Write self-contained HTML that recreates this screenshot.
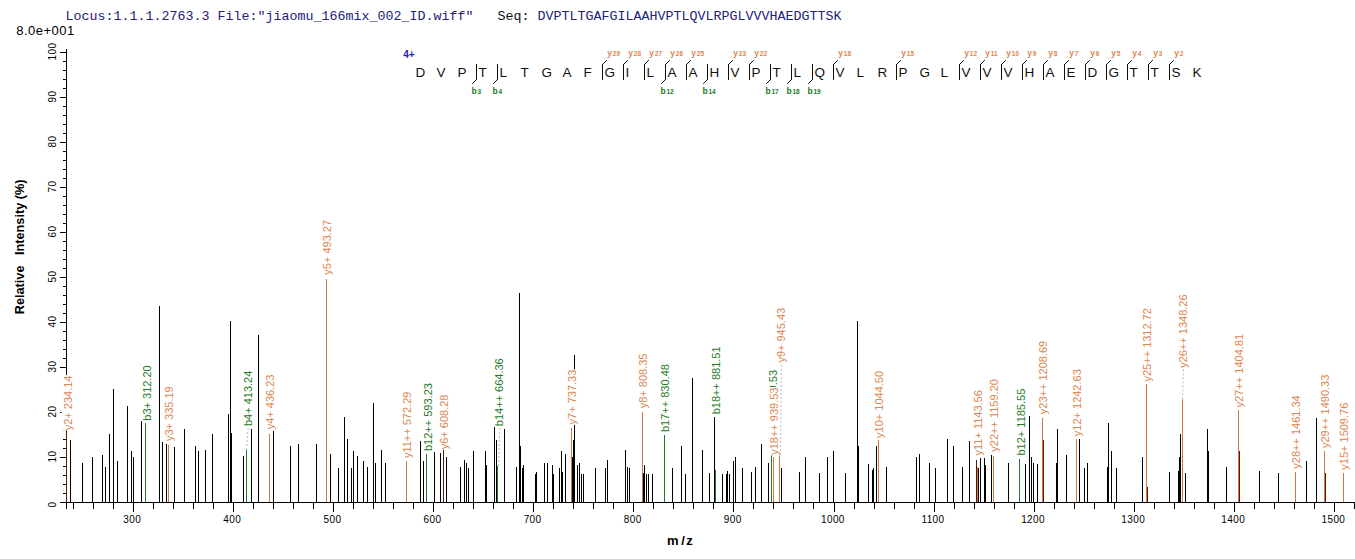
<!DOCTYPE html>
<html><head><meta charset="utf-8"><style>
html,body{margin:0;padding:0;background:#fff;width:1355px;height:559px;overflow:hidden}
svg{display:block}
text{font-family:"Liberation Sans",sans-serif}
.tl{font-size:10px;letter-spacing:0.4px;fill:#000}
.lb{font-size:11px}
.sq{font-size:13.5px;fill:#111}
.ion{font-size:8.5px;font-weight:bold}
.ionn{font-size:6.5px;font-weight:bold}
.chg{font-size:10px;font-weight:bold;fill:#2222bb}
.ax{font-size:13px;font-weight:bold;fill:#000}
.sc{font-size:13px;letter-spacing:0.5px;fill:#000}
.hd{font-family:"Liberation Mono",monospace;font-size:13.33px}
</style></head><body>
<svg width="1355" height="559" viewBox="0 0 1355 559">
<g shape-rendering="crispEdges">
<rect x="66" y="49" width="1" height="460" fill="#000"/>
<rect x="66" y="502" width="1289" height="1" fill="#000"/>
<rect x="60" y="502" width="6" height="1" fill="#000"/>
<rect x="63" y="493" width="3" height="1" fill="#000"/>
<rect x="63" y="484" width="3" height="1" fill="#000"/>
<rect x="63" y="475" width="3" height="1" fill="#000"/>
<rect x="63" y="466" width="3" height="1" fill="#000"/>
<rect x="60" y="457" width="6" height="1" fill="#000"/>
<rect x="63" y="448" width="3" height="1" fill="#000"/>
<rect x="63" y="439" width="3" height="1" fill="#000"/>
<rect x="63" y="430" width="3" height="1" fill="#000"/>
<rect x="63" y="421" width="3" height="1" fill="#000"/>
<rect x="60" y="412" width="6" height="1" fill="#000"/>
<rect x="63" y="403" width="3" height="1" fill="#000"/>
<rect x="63" y="394" width="3" height="1" fill="#000"/>
<rect x="63" y="385" width="3" height="1" fill="#000"/>
<rect x="63" y="376" width="3" height="1" fill="#000"/>
<rect x="60" y="367" width="6" height="1" fill="#000"/>
<rect x="63" y="358" width="3" height="1" fill="#000"/>
<rect x="63" y="349" width="3" height="1" fill="#000"/>
<rect x="63" y="340" width="3" height="1" fill="#000"/>
<rect x="63" y="331" width="3" height="1" fill="#000"/>
<rect x="60" y="322" width="6" height="1" fill="#000"/>
<rect x="63" y="313" width="3" height="1" fill="#000"/>
<rect x="63" y="304" width="3" height="1" fill="#000"/>
<rect x="63" y="295" width="3" height="1" fill="#000"/>
<rect x="63" y="286" width="3" height="1" fill="#000"/>
<rect x="60" y="277" width="6" height="1" fill="#000"/>
<rect x="63" y="268" width="3" height="1" fill="#000"/>
<rect x="63" y="259" width="3" height="1" fill="#000"/>
<rect x="63" y="250" width="3" height="1" fill="#000"/>
<rect x="63" y="241" width="3" height="1" fill="#000"/>
<rect x="60" y="232" width="6" height="1" fill="#000"/>
<rect x="63" y="223" width="3" height="1" fill="#000"/>
<rect x="63" y="214" width="3" height="1" fill="#000"/>
<rect x="63" y="205" width="3" height="1" fill="#000"/>
<rect x="63" y="196" width="3" height="1" fill="#000"/>
<rect x="60" y="187" width="6" height="1" fill="#000"/>
<rect x="63" y="178" width="3" height="1" fill="#000"/>
<rect x="63" y="169" width="3" height="1" fill="#000"/>
<rect x="63" y="160" width="3" height="1" fill="#000"/>
<rect x="63" y="151" width="3" height="1" fill="#000"/>
<rect x="60" y="142" width="6" height="1" fill="#000"/>
<rect x="63" y="133" width="3" height="1" fill="#000"/>
<rect x="63" y="124" width="3" height="1" fill="#000"/>
<rect x="63" y="115" width="3" height="1" fill="#000"/>
<rect x="63" y="106" width="3" height="1" fill="#000"/>
<rect x="60" y="97" width="6" height="1" fill="#000"/>
<rect x="63" y="88" width="3" height="1" fill="#000"/>
<rect x="63" y="79" width="3" height="1" fill="#000"/>
<rect x="63" y="70" width="3" height="1" fill="#000"/>
<rect x="63" y="61" width="3" height="1" fill="#000"/>
<rect x="60" y="52" width="6" height="1" fill="#000"/>
<rect x="73" y="503" width="1" height="6" fill="#000"/>
<rect x="93" y="503" width="1" height="6" fill="#000"/>
<rect x="113" y="503" width="1" height="6" fill="#000"/>
<rect x="133" y="503" width="1" height="9" fill="#000"/>
<rect x="153" y="503" width="1" height="6" fill="#000"/>
<rect x="173" y="503" width="1" height="6" fill="#000"/>
<rect x="193" y="503" width="1" height="6" fill="#000"/>
<rect x="213" y="503" width="1" height="6" fill="#000"/>
<rect x="233" y="503" width="1" height="9" fill="#000"/>
<rect x="253" y="503" width="1" height="6" fill="#000"/>
<rect x="273" y="503" width="1" height="6" fill="#000"/>
<rect x="293" y="503" width="1" height="6" fill="#000"/>
<rect x="313" y="503" width="1" height="6" fill="#000"/>
<rect x="333" y="503" width="1" height="9" fill="#000"/>
<rect x="353" y="503" width="1" height="6" fill="#000"/>
<rect x="373" y="503" width="1" height="6" fill="#000"/>
<rect x="393" y="503" width="1" height="6" fill="#000"/>
<rect x="413" y="503" width="1" height="6" fill="#000"/>
<rect x="433" y="503" width="1" height="9" fill="#000"/>
<rect x="453" y="503" width="1" height="6" fill="#000"/>
<rect x="473" y="503" width="1" height="6" fill="#000"/>
<rect x="493" y="503" width="1" height="6" fill="#000"/>
<rect x="513" y="503" width="1" height="6" fill="#000"/>
<rect x="533" y="503" width="1" height="9" fill="#000"/>
<rect x="553" y="503" width="1" height="6" fill="#000"/>
<rect x="573" y="503" width="1" height="6" fill="#000"/>
<rect x="593" y="503" width="1" height="6" fill="#000"/>
<rect x="613" y="503" width="1" height="6" fill="#000"/>
<rect x="633" y="503" width="1" height="9" fill="#000"/>
<rect x="653" y="503" width="1" height="6" fill="#000"/>
<rect x="673" y="503" width="1" height="6" fill="#000"/>
<rect x="693" y="503" width="1" height="6" fill="#000"/>
<rect x="713" y="503" width="1" height="6" fill="#000"/>
<rect x="733" y="503" width="1" height="9" fill="#000"/>
<rect x="753" y="503" width="1" height="6" fill="#000"/>
<rect x="773" y="503" width="1" height="6" fill="#000"/>
<rect x="793" y="503" width="1" height="6" fill="#000"/>
<rect x="813" y="503" width="1" height="6" fill="#000"/>
<rect x="834" y="503" width="1" height="9" fill="#000"/>
<rect x="854" y="503" width="1" height="6" fill="#000"/>
<rect x="874" y="503" width="1" height="6" fill="#000"/>
<rect x="894" y="503" width="1" height="6" fill="#000"/>
<rect x="914" y="503" width="1" height="6" fill="#000"/>
<rect x="934" y="503" width="1" height="9" fill="#000"/>
<rect x="954" y="503" width="1" height="6" fill="#000"/>
<rect x="974" y="503" width="1" height="6" fill="#000"/>
<rect x="994" y="503" width="1" height="6" fill="#000"/>
<rect x="1014" y="503" width="1" height="6" fill="#000"/>
<rect x="1034" y="503" width="1" height="9" fill="#000"/>
<rect x="1054" y="503" width="1" height="6" fill="#000"/>
<rect x="1074" y="503" width="1" height="6" fill="#000"/>
<rect x="1094" y="503" width="1" height="6" fill="#000"/>
<rect x="1114" y="503" width="1" height="6" fill="#000"/>
<rect x="1134" y="503" width="1" height="9" fill="#000"/>
<rect x="1154" y="503" width="1" height="6" fill="#000"/>
<rect x="1174" y="503" width="1" height="6" fill="#000"/>
<rect x="1194" y="503" width="1" height="6" fill="#000"/>
<rect x="1214" y="503" width="1" height="6" fill="#000"/>
<rect x="1234" y="503" width="1" height="9" fill="#000"/>
<rect x="1254" y="503" width="1" height="6" fill="#000"/>
<rect x="1274" y="503" width="1" height="6" fill="#000"/>
<rect x="1294" y="503" width="1" height="6" fill="#000"/>
<rect x="1314" y="503" width="1" height="6" fill="#000"/>
<rect x="1334" y="503" width="1" height="9" fill="#000"/>
<rect x="1354" y="503" width="1" height="6" fill="#000"/>
<rect x="66" y="432" width="1" height="70" fill="#5a1a08"/>
<rect x="70" y="440" width="1" height="62" fill="#000000"/>
<rect x="82" y="463" width="1" height="39" fill="#000000"/>
<rect x="92" y="457" width="1" height="45" fill="#000000"/>
<rect x="102" y="455" width="1" height="47" fill="#000000"/>
<rect x="105" y="467" width="1" height="35" fill="#000000"/>
<rect x="109" y="434" width="1" height="68" fill="#000000"/>
<rect x="113" y="389" width="1" height="113" fill="#000000"/>
<rect x="117" y="461" width="1" height="41" fill="#000000"/>
<rect x="127" y="406" width="1" height="96" fill="#000000"/>
<rect x="131" y="451" width="1" height="51" fill="#000000"/>
<rect x="133" y="457" width="1" height="45" fill="#000000"/>
<rect x="141" y="421" width="1" height="81" fill="#000000"/>
<rect x="145" y="423" width="1" height="79" fill="#1f7a2f"/>
<rect x="159" y="306" width="1" height="196" fill="#000000"/>
<rect x="162" y="442" width="1" height="60" fill="#000000"/>
<rect x="166" y="444" width="1" height="58" fill="#000000"/>
<rect x="168" y="445" width="1" height="57" fill="#d2783c"/>
<rect x="174" y="447" width="1" height="55" fill="#000000"/>
<rect x="184" y="429" width="1" height="73" fill="#000000"/>
<rect x="195" y="446" width="1" height="56" fill="#000000"/>
<rect x="198" y="451" width="1" height="51" fill="#000000"/>
<rect x="205" y="450" width="1" height="52" fill="#000000"/>
<rect x="212" y="434" width="1" height="68" fill="#000000"/>
<rect x="228" y="414" width="1" height="88" fill="#000000"/>
<rect x="230" y="321" width="1" height="181" fill="#000000"/>
<rect x="231" y="433" width="1" height="69" fill="#000000"/>
<rect x="243" y="456" width="1" height="46" fill="#000000"/>
<rect x="246" y="450" width="1" height="52" fill="#1f7a2f"/>
<rect x="251" y="429" width="1" height="73" fill="#000000"/>
<rect x="258" y="335" width="1" height="167" fill="#000000"/>
<rect x="269" y="434" width="1" height="68" fill="#d2783c"/>
<rect x="273" y="431" width="1" height="71" fill="#000000"/>
<rect x="290" y="446" width="1" height="56" fill="#000000"/>
<rect x="298" y="444" width="1" height="58" fill="#000000"/>
<rect x="316" y="444" width="1" height="58" fill="#000000"/>
<rect x="326" y="279" width="1" height="223" fill="#d2783c"/>
<rect x="330" y="454" width="1" height="48" fill="#000000"/>
<rect x="338" y="468" width="1" height="34" fill="#000000"/>
<rect x="344" y="417" width="1" height="85" fill="#000000"/>
<rect x="347" y="439" width="1" height="63" fill="#000000"/>
<rect x="351" y="468" width="1" height="34" fill="#000000"/>
<rect x="353" y="451" width="1" height="51" fill="#000000"/>
<rect x="357" y="456" width="1" height="46" fill="#000000"/>
<rect x="363" y="461" width="1" height="41" fill="#000000"/>
<rect x="367" y="467" width="1" height="35" fill="#000000"/>
<rect x="373" y="403" width="1" height="99" fill="#000000"/>
<rect x="375" y="463" width="1" height="39" fill="#000000"/>
<rect x="381" y="450" width="1" height="52" fill="#000000"/>
<rect x="385" y="463" width="1" height="39" fill="#000000"/>
<rect x="406" y="461" width="1" height="41" fill="#d2783c"/>
<rect x="420" y="441" width="1" height="61" fill="#000000"/>
<rect x="423" y="461" width="1" height="41" fill="#000000"/>
<rect x="426" y="454" width="1" height="48" fill="#1f7a2f"/>
<rect x="434" y="452" width="1" height="50" fill="#000000"/>
<rect x="440" y="453" width="1" height="49" fill="#000000"/>
<rect x="443" y="449" width="1" height="53" fill="#5a1a08"/>
<rect x="446" y="457" width="1" height="45" fill="#000000"/>
<rect x="460" y="467" width="1" height="35" fill="#000000"/>
<rect x="464" y="460" width="1" height="42" fill="#000000"/>
<rect x="466" y="463" width="1" height="39" fill="#000000"/>
<rect x="468" y="468" width="1" height="34" fill="#000000"/>
<rect x="473" y="451" width="1" height="51" fill="#000000"/>
<rect x="485" y="451" width="1" height="51" fill="#000000"/>
<rect x="486" y="465" width="1" height="37" fill="#000000"/>
<rect x="494" y="427" width="1" height="75" fill="#000000"/>
<rect x="496" y="440" width="1" height="62" fill="#000000"/>
<rect x="497" y="466" width="1" height="36" fill="#1f7a2f"/>
<rect x="504" y="429" width="1" height="73" fill="#000000"/>
<rect x="516" y="467" width="1" height="35" fill="#000000"/>
<rect x="519" y="293" width="1" height="209" fill="#000000"/>
<rect x="520" y="446" width="1" height="56" fill="#000000"/>
<rect x="522" y="468" width="1" height="34" fill="#000000"/>
<rect x="523" y="465" width="1" height="37" fill="#000000"/>
<rect x="535" y="474" width="1" height="28" fill="#000000"/>
<rect x="536" y="472" width="1" height="30" fill="#000000"/>
<rect x="544" y="463" width="1" height="39" fill="#000000"/>
<rect x="547" y="463" width="1" height="39" fill="#000000"/>
<rect x="552" y="465" width="1" height="37" fill="#000000"/>
<rect x="553" y="474" width="1" height="28" fill="#000000"/>
<rect x="559" y="468" width="1" height="34" fill="#000000"/>
<rect x="561" y="451" width="1" height="51" fill="#000000"/>
<rect x="562" y="472" width="1" height="30" fill="#000000"/>
<rect x="565" y="454" width="1" height="48" fill="#000000"/>
<rect x="571" y="428" width="1" height="74" fill="#d2783c"/>
<rect x="572" y="457" width="1" height="45" fill="#000000"/>
<rect x="573" y="440" width="1" height="62" fill="#000000"/>
<rect x="574" y="355" width="1" height="147" fill="#000000"/>
<rect x="577" y="465" width="1" height="37" fill="#000000"/>
<rect x="579" y="463" width="1" height="39" fill="#000000"/>
<rect x="581" y="474" width="1" height="28" fill="#000000"/>
<rect x="583" y="474" width="1" height="28" fill="#000000"/>
<rect x="595" y="468" width="1" height="34" fill="#000000"/>
<rect x="605" y="468" width="1" height="34" fill="#000000"/>
<rect x="607" y="460" width="1" height="42" fill="#000000"/>
<rect x="625" y="450" width="1" height="52" fill="#000000"/>
<rect x="627" y="467" width="1" height="35" fill="#000000"/>
<rect x="629" y="468" width="1" height="34" fill="#000000"/>
<rect x="642" y="412" width="1" height="90" fill="#d2783c"/>
<rect x="643" y="473" width="1" height="29" fill="#000000"/>
<rect x="644" y="465" width="1" height="37" fill="#000000"/>
<rect x="646" y="474" width="1" height="28" fill="#000000"/>
<rect x="648" y="474" width="1" height="28" fill="#000000"/>
<rect x="652" y="474" width="1" height="28" fill="#000000"/>
<rect x="664" y="435" width="1" height="67" fill="#1f7a2f"/>
<rect x="672" y="468" width="1" height="34" fill="#000000"/>
<rect x="681" y="446" width="1" height="56" fill="#000000"/>
<rect x="685" y="474" width="1" height="28" fill="#000000"/>
<rect x="692" y="378" width="1" height="124" fill="#000000"/>
<rect x="702" y="450" width="1" height="52" fill="#000000"/>
<rect x="709" y="473" width="1" height="29" fill="#000000"/>
<rect x="714" y="417" width="1" height="85" fill="#000000"/>
<rect x="715" y="470" width="1" height="32" fill="#1f7a2f"/>
<rect x="722" y="474" width="1" height="28" fill="#000000"/>
<rect x="726" y="474" width="1" height="28" fill="#000000"/>
<rect x="727" y="471" width="1" height="31" fill="#000000"/>
<rect x="729" y="474" width="1" height="28" fill="#000000"/>
<rect x="733" y="461" width="1" height="41" fill="#000000"/>
<rect x="735" y="457" width="1" height="45" fill="#000000"/>
<rect x="742" y="468" width="1" height="34" fill="#000000"/>
<rect x="751" y="472" width="1" height="30" fill="#000000"/>
<rect x="755" y="467" width="1" height="35" fill="#000000"/>
<rect x="761" y="444" width="1" height="58" fill="#000000"/>
<rect x="768" y="463" width="1" height="39" fill="#000000"/>
<rect x="771" y="455" width="1" height="47" fill="#1f7a2f"/>
<rect x="773" y="457" width="1" height="45" fill="#d2783c"/>
<rect x="779" y="455" width="1" height="47" fill="#d2783c"/>
<rect x="781" y="468" width="1" height="34" fill="#000000"/>
<rect x="799" y="472" width="1" height="30" fill="#000000"/>
<rect x="805" y="457" width="1" height="45" fill="#000000"/>
<rect x="819" y="473" width="1" height="29" fill="#000000"/>
<rect x="827" y="457" width="1" height="45" fill="#000000"/>
<rect x="833" y="451" width="1" height="51" fill="#000000"/>
<rect x="845" y="473" width="1" height="29" fill="#000000"/>
<rect x="857" y="321" width="1" height="181" fill="#000000"/>
<rect x="858" y="446" width="1" height="56" fill="#000000"/>
<rect x="868" y="464" width="1" height="38" fill="#000000"/>
<rect x="872" y="470" width="1" height="32" fill="#000000"/>
<rect x="873" y="468" width="1" height="34" fill="#000000"/>
<rect x="876" y="446" width="1" height="56" fill="#000000"/>
<rect x="878" y="440" width="1" height="62" fill="#d2783c"/>
<rect x="886" y="467" width="1" height="35" fill="#000000"/>
<rect x="916" y="457" width="1" height="45" fill="#000000"/>
<rect x="919" y="454" width="1" height="48" fill="#000000"/>
<rect x="929" y="463" width="1" height="39" fill="#000000"/>
<rect x="935" y="468" width="1" height="34" fill="#000000"/>
<rect x="947" y="439" width="1" height="63" fill="#000000"/>
<rect x="953" y="446" width="1" height="56" fill="#000000"/>
<rect x="962" y="467" width="1" height="35" fill="#000000"/>
<rect x="969" y="441" width="1" height="61" fill="#000000"/>
<rect x="976" y="460" width="1" height="42" fill="#5a1a08"/>
<rect x="977" y="467" width="1" height="35" fill="#d2783c"/>
<rect x="978" y="468" width="1" height="34" fill="#000000"/>
<rect x="980" y="458" width="1" height="44" fill="#000000"/>
<rect x="984" y="458" width="1" height="44" fill="#000000"/>
<rect x="985" y="465" width="1" height="37" fill="#000000"/>
<rect x="991" y="455" width="1" height="47" fill="#000000"/>
<rect x="993" y="456" width="1" height="46" fill="#d2783c"/>
<rect x="1008" y="463" width="1" height="39" fill="#000000"/>
<rect x="1019" y="459" width="1" height="43" fill="#1f7a2f"/>
<rect x="1025" y="464" width="1" height="38" fill="#000000"/>
<rect x="1029" y="416" width="1" height="86" fill="#000000"/>
<rect x="1031" y="457" width="1" height="45" fill="#000000"/>
<rect x="1033" y="463" width="1" height="39" fill="#000000"/>
<rect x="1037" y="464" width="1" height="38" fill="#000000"/>
<rect x="1042" y="418" width="1" height="84" fill="#d2783c"/>
<rect x="1043" y="440" width="1" height="62" fill="#5a1a08"/>
<rect x="1056" y="463" width="1" height="39" fill="#000000"/>
<rect x="1057" y="429" width="1" height="73" fill="#000000"/>
<rect x="1066" y="455" width="1" height="47" fill="#000000"/>
<rect x="1076" y="439" width="1" height="63" fill="#d2783c"/>
<rect x="1079" y="439" width="1" height="63" fill="#000000"/>
<rect x="1084" y="468" width="1" height="34" fill="#000000"/>
<rect x="1087" y="463" width="1" height="39" fill="#000000"/>
<rect x="1107" y="467" width="1" height="35" fill="#000000"/>
<rect x="1108" y="423" width="1" height="79" fill="#000000"/>
<rect x="1111" y="451" width="1" height="51" fill="#000000"/>
<rect x="1116" y="468" width="1" height="34" fill="#000000"/>
<rect x="1142" y="457" width="1" height="45" fill="#000000"/>
<rect x="1146" y="384" width="1" height="118" fill="#d2783c"/>
<rect x="1147" y="487" width="1" height="15" fill="#5a1a08"/>
<rect x="1169" y="472" width="1" height="30" fill="#000000"/>
<rect x="1178" y="471" width="1" height="31" fill="#000000"/>
<rect x="1179" y="457" width="1" height="45" fill="#000000"/>
<rect x="1180" y="434" width="1" height="68" fill="#000000"/>
<rect x="1182" y="399" width="1" height="103" fill="#d2783c"/>
<rect x="1185" y="473" width="1" height="29" fill="#000000"/>
<rect x="1207" y="429" width="1" height="73" fill="#000000"/>
<rect x="1208" y="451" width="1" height="51" fill="#000000"/>
<rect x="1226" y="467" width="1" height="35" fill="#000000"/>
<rect x="1238" y="410" width="1" height="92" fill="#d2783c"/>
<rect x="1239" y="451" width="1" height="51" fill="#5a1a08"/>
<rect x="1259" y="471" width="1" height="31" fill="#000000"/>
<rect x="1278" y="473" width="1" height="29" fill="#000000"/>
<rect x="1295" y="472" width="1" height="30" fill="#d2783c"/>
<rect x="1306" y="461" width="1" height="41" fill="#000000"/>
<rect x="1316" y="418" width="1" height="84" fill="#000000"/>
<rect x="1324" y="451" width="1" height="51" fill="#d2783c"/>
<rect x="1325" y="473" width="1" height="29" fill="#5a1a08"/>
<rect x="1343" y="473" width="1" height="29" fill="#d2783c"/>
<rect x="476" y="64" width="1" height="16" fill="#111"/>
<rect x="497" y="64" width="1" height="16" fill="#111"/>
<rect x="602" y="64" width="1" height="16" fill="#111"/>
<rect x="623" y="64" width="1" height="16" fill="#111"/>
<rect x="644" y="64" width="1" height="16" fill="#111"/>
<rect x="665" y="64" width="1" height="16" fill="#111"/>
<rect x="686" y="64" width="1" height="16" fill="#111"/>
<rect x="707" y="64" width="1" height="16" fill="#111"/>
<rect x="728" y="64" width="1" height="16" fill="#111"/>
<rect x="749" y="64" width="1" height="16" fill="#111"/>
<rect x="770" y="64" width="1" height="16" fill="#111"/>
<rect x="791" y="64" width="1" height="16" fill="#111"/>
<rect x="812" y="64" width="1" height="16" fill="#111"/>
<rect x="833" y="64" width="1" height="16" fill="#111"/>
<rect x="896" y="64" width="1" height="16" fill="#111"/>
<rect x="959" y="64" width="1" height="16" fill="#111"/>
<rect x="980" y="64" width="1" height="16" fill="#111"/>
<rect x="1001" y="64" width="1" height="16" fill="#111"/>
<rect x="1022" y="64" width="1" height="16" fill="#111"/>
<rect x="1043" y="64" width="1" height="16" fill="#111"/>
<rect x="1064" y="64" width="1" height="16" fill="#111"/>
<rect x="1085" y="64" width="1" height="16" fill="#111"/>
<rect x="1106" y="64" width="1" height="16" fill="#111"/>
<rect x="1127" y="64" width="1" height="16" fill="#111"/>
<rect x="1148" y="64" width="1" height="16" fill="#111"/>
<rect x="1169" y="64" width="1" height="16" fill="#111"/>
</g>
<text class="tl" transform="translate(55.8,504.5) rotate(-90)" text-anchor="middle">0</text>
<text class="tl" transform="translate(55.8,456.5) rotate(-90)" text-anchor="middle">10</text>
<text class="tl" transform="translate(55.8,411.5) rotate(-90)" text-anchor="middle">20</text>
<text class="tl" transform="translate(55.8,366.5) rotate(-90)" text-anchor="middle">30</text>
<text class="tl" transform="translate(55.8,321.5) rotate(-90)" text-anchor="middle">40</text>
<text class="tl" transform="translate(55.8,276.5) rotate(-90)" text-anchor="middle">50</text>
<text class="tl" transform="translate(55.8,231.5) rotate(-90)" text-anchor="middle">60</text>
<text class="tl" transform="translate(55.8,186.5) rotate(-90)" text-anchor="middle">70</text>
<text class="tl" transform="translate(55.8,141.5) rotate(-90)" text-anchor="middle">80</text>
<text class="tl" transform="translate(55.8,96.5) rotate(-90)" text-anchor="middle">90</text>
<text class="tl" transform="translate(55.8,51.5) rotate(-90)" text-anchor="middle">100</text>
<text class="tl" x="132.2" y="522.5" text-anchor="middle">300</text>
<text class="tl" x="232.3" y="522.5" text-anchor="middle">400</text>
<text class="tl" x="332.4" y="522.5" text-anchor="middle">500</text>
<text class="tl" x="432.5" y="522.5" text-anchor="middle">600</text>
<text class="tl" x="532.6" y="522.5" text-anchor="middle">700</text>
<text class="tl" x="632.7" y="522.5" text-anchor="middle">800</text>
<text class="tl" x="732.8" y="522.5" text-anchor="middle">900</text>
<text class="tl" x="832.9" y="522.5" text-anchor="middle">1000</text>
<text class="tl" x="933.0" y="522.5" text-anchor="middle">1100</text>
<text class="tl" x="1033.1" y="522.5" text-anchor="middle">1200</text>
<text class="tl" x="1133.2" y="522.5" text-anchor="middle">1300</text>
<text class="tl" x="1233.3" y="522.5" text-anchor="middle">1400</text>
<text class="tl" x="1333.4" y="522.5" text-anchor="middle">1500</text>
<text class="sq" x="415.5" y="76.6">D</text>
<text class="sq" x="436.5" y="76.6">V</text>
<text class="sq" x="457.5" y="76.6">P</text>
<text class="sq" x="478.5" y="76.6">T</text>
<text class="sq" x="499.5" y="76.6">L</text>
<text class="sq" x="520.5" y="76.6">T</text>
<text class="sq" x="541.5" y="76.6">G</text>
<text class="sq" x="562.5" y="76.6">A</text>
<text class="sq" x="583.5" y="76.6">F</text>
<text class="sq" x="604.5" y="76.6">G</text>
<text class="sq" x="625.5" y="76.6">I</text>
<text class="sq" x="646.5" y="76.6">L</text>
<text class="sq" x="667.5" y="76.6">A</text>
<text class="sq" x="688.5" y="76.6">A</text>
<text class="sq" x="709.5" y="76.6">H</text>
<text class="sq" x="730.5" y="76.6">V</text>
<text class="sq" x="751.5" y="76.6">P</text>
<text class="sq" x="772.5" y="76.6">T</text>
<text class="sq" x="793.5" y="76.6">L</text>
<text class="sq" x="814.5" y="76.6">Q</text>
<text class="sq" x="835.5" y="76.6">V</text>
<text class="sq" x="856.5" y="76.6">L</text>
<text class="sq" x="877.5" y="76.6">R</text>
<text class="sq" x="898.5" y="76.6">P</text>
<text class="sq" x="919.5" y="76.6">G</text>
<text class="sq" x="940.5" y="76.6">L</text>
<text class="sq" x="961.5" y="76.6">V</text>
<text class="sq" x="982.5" y="76.6">V</text>
<text class="sq" x="1003.5" y="76.6">V</text>
<text class="sq" x="1024.5" y="76.6">H</text>
<text class="sq" x="1045.5" y="76.6">A</text>
<text class="sq" x="1066.5" y="76.6">E</text>
<text class="sq" x="1087.5" y="76.6">D</text>
<text class="sq" x="1108.5" y="76.6">G</text>
<text class="sq" x="1129.5" y="76.6">T</text>
<text class="sq" x="1150.5" y="76.6">T</text>
<text class="sq" x="1171.5" y="76.6">S</text>
<text class="sq" x="1192.5" y="76.6">K</text>
<line x1="476.5" y1="79.5" x2="472.2" y2="83.8" stroke="#111" stroke-width="1"/>
<text class="ion" fill="#1f7a28" x="471.5" y="93.6">b<tspan class="ionn" dx="0.8">3</tspan></text>
<line x1="497.5" y1="79.5" x2="493.2" y2="83.8" stroke="#111" stroke-width="1"/>
<text class="ion" fill="#1f7a28" x="492.5" y="93.6">b<tspan class="ionn" dx="0.8">4</tspan></text>
<line x1="602.5" y1="64.5" x2="606.8" y2="60.2" stroke="#111" stroke-width="1"/>
<text class="ion" fill="#dc8650" x="607.3" y="56.2">y<tspan class="ionn" dx="0.8" dy="-0.6">29</tspan></text>
<line x1="623.5" y1="64.5" x2="627.8" y2="60.2" stroke="#111" stroke-width="1"/>
<text class="ion" fill="#dc8650" x="628.3" y="56.2">y<tspan class="ionn" dx="0.8" dy="-0.6">28</tspan></text>
<line x1="644.5" y1="64.5" x2="648.8" y2="60.2" stroke="#111" stroke-width="1"/>
<text class="ion" fill="#dc8650" x="649.3" y="56.2">y<tspan class="ionn" dx="0.8" dy="-0.6">27</tspan></text>
<line x1="665.5" y1="64.5" x2="669.8" y2="60.2" stroke="#111" stroke-width="1"/>
<text class="ion" fill="#dc8650" x="670.3" y="56.2">y<tspan class="ionn" dx="0.8" dy="-0.6">26</tspan></text>
<line x1="665.5" y1="79.5" x2="661.2" y2="83.8" stroke="#111" stroke-width="1"/>
<text class="ion" fill="#1f7a28" x="660.5" y="93.6">b<tspan class="ionn" dx="0.8">12</tspan></text>
<line x1="686.5" y1="64.5" x2="690.8" y2="60.2" stroke="#111" stroke-width="1"/>
<text class="ion" fill="#dc8650" x="691.3" y="56.2">y<tspan class="ionn" dx="0.8" dy="-0.6">25</tspan></text>
<line x1="707.5" y1="79.5" x2="703.2" y2="83.8" stroke="#111" stroke-width="1"/>
<text class="ion" fill="#1f7a28" x="702.5" y="93.6">b<tspan class="ionn" dx="0.8">14</tspan></text>
<line x1="728.5" y1="64.5" x2="732.8" y2="60.2" stroke="#111" stroke-width="1"/>
<text class="ion" fill="#dc8650" x="733.3" y="56.2">y<tspan class="ionn" dx="0.8" dy="-0.6">23</tspan></text>
<line x1="749.5" y1="64.5" x2="753.8" y2="60.2" stroke="#111" stroke-width="1"/>
<text class="ion" fill="#dc8650" x="754.3" y="56.2">y<tspan class="ionn" dx="0.8" dy="-0.6">22</tspan></text>
<line x1="770.5" y1="79.5" x2="766.2" y2="83.8" stroke="#111" stroke-width="1"/>
<text class="ion" fill="#1f7a28" x="765.5" y="93.6">b<tspan class="ionn" dx="0.8">17</tspan></text>
<line x1="791.5" y1="79.5" x2="787.2" y2="83.8" stroke="#111" stroke-width="1"/>
<text class="ion" fill="#1f7a28" x="786.5" y="93.6">b<tspan class="ionn" dx="0.8">18</tspan></text>
<line x1="812.5" y1="79.5" x2="808.2" y2="83.8" stroke="#111" stroke-width="1"/>
<text class="ion" fill="#1f7a28" x="807.5" y="93.6">b<tspan class="ionn" dx="0.8">19</tspan></text>
<line x1="833.5" y1="64.5" x2="837.8" y2="60.2" stroke="#111" stroke-width="1"/>
<text class="ion" fill="#dc8650" x="838.3" y="56.2">y<tspan class="ionn" dx="0.8" dy="-0.6">18</tspan></text>
<line x1="896.5" y1="64.5" x2="900.8" y2="60.2" stroke="#111" stroke-width="1"/>
<text class="ion" fill="#dc8650" x="901.3" y="56.2">y<tspan class="ionn" dx="0.8" dy="-0.6">15</tspan></text>
<line x1="959.5" y1="64.5" x2="963.8" y2="60.2" stroke="#111" stroke-width="1"/>
<text class="ion" fill="#dc8650" x="964.3" y="56.2">y<tspan class="ionn" dx="0.8" dy="-0.6">12</tspan></text>
<line x1="980.5" y1="64.5" x2="984.8" y2="60.2" stroke="#111" stroke-width="1"/>
<text class="ion" fill="#dc8650" x="985.3" y="56.2">y<tspan class="ionn" dx="0.8" dy="-0.6">11</tspan></text>
<line x1="1001.5" y1="64.5" x2="1005.8" y2="60.2" stroke="#111" stroke-width="1"/>
<text class="ion" fill="#dc8650" x="1006.3" y="56.2">y<tspan class="ionn" dx="0.8" dy="-0.6">10</tspan></text>
<line x1="1022.5" y1="64.5" x2="1026.8" y2="60.2" stroke="#111" stroke-width="1"/>
<text class="ion" fill="#dc8650" x="1027.3" y="56.2">y<tspan class="ionn" dx="0.8" dy="-0.6">9</tspan></text>
<line x1="1043.5" y1="64.5" x2="1047.8" y2="60.2" stroke="#111" stroke-width="1"/>
<text class="ion" fill="#dc8650" x="1048.3" y="56.2">y<tspan class="ionn" dx="0.8" dy="-0.6">8</tspan></text>
<line x1="1064.5" y1="64.5" x2="1068.8" y2="60.2" stroke="#111" stroke-width="1"/>
<text class="ion" fill="#dc8650" x="1069.3" y="56.2">y<tspan class="ionn" dx="0.8" dy="-0.6">7</tspan></text>
<line x1="1085.5" y1="64.5" x2="1089.8" y2="60.2" stroke="#111" stroke-width="1"/>
<text class="ion" fill="#dc8650" x="1090.3" y="56.2">y<tspan class="ionn" dx="0.8" dy="-0.6">6</tspan></text>
<line x1="1106.5" y1="64.5" x2="1110.8" y2="60.2" stroke="#111" stroke-width="1"/>
<text class="ion" fill="#dc8650" x="1111.3" y="56.2">y<tspan class="ionn" dx="0.8" dy="-0.6">5</tspan></text>
<line x1="1127.5" y1="64.5" x2="1131.8" y2="60.2" stroke="#111" stroke-width="1"/>
<text class="ion" fill="#dc8650" x="1132.3" y="56.2">y<tspan class="ionn" dx="0.8" dy="-0.6">4</tspan></text>
<line x1="1148.5" y1="64.5" x2="1152.8" y2="60.2" stroke="#111" stroke-width="1"/>
<text class="ion" fill="#dc8650" x="1153.3" y="56.2">y<tspan class="ionn" dx="0.8" dy="-0.6">3</tspan></text>
<line x1="1169.5" y1="64.5" x2="1173.8" y2="60.2" stroke="#111" stroke-width="1"/>
<text class="ion" fill="#dc8650" x="1174.3" y="56.2">y<tspan class="ionn" dx="0.8" dy="-0.6">2</tspan></text>
<text class="chg" x="403.3" y="57.5">4+</text>
<text class="ax" style="font-size:12.7px" transform="translate(23.5,314.2) rotate(-90)" xml:space="preserve">Relative   Intensity (%)</text>
<text class="ax" x="667" y="545">m<tspan dx="2.6">/</tspan><tspan dx="1.4">z</tspan></text>
<text class="sc" x="16.2" y="34.8">8.0e+001</text>
<text class="hd" x="65.6" y="19.8" fill="#22227a" xml:space="preserve">Locus:1.1.1.2763.3 File:"jiaomu_166mix_002_ID.wiff"   <tspan fill="#111">Seq:</tspan> DVPTLTGAFGILAAHVPTLQVLRPGLVVVHAEDGTTSK</text>
<rect transform="translate(71.5,430.3) rotate(-90)" x="-0.5" y="-10" width="55.7" height="12.3" fill="#fff"/>
<text class="lb" fill="#dc8650" transform="translate(71.5,430.3) rotate(-90)">y2+ 234.14</text>
<rect transform="translate(150.5,420.7) rotate(-90)" x="-0.5" y="-10" width="56.4" height="12.3" fill="#fff"/>
<text class="lb" fill="#1f7a28" transform="translate(150.5,420.7) rotate(-90)">b3+ 312.20</text>
<rect transform="translate(173.1,441.0) rotate(-90)" x="-0.5" y="-10" width="55.7" height="12.3" fill="#fff"/>
<text class="lb" fill="#dc8650" transform="translate(173.1,441.0) rotate(-90)">y3+ 335.19</text>
<line x1="246.5" y1="450" x2="248.2" y2="426.7" stroke="#bbb" stroke-width="1" stroke-dasharray="2,2"/>
<rect transform="translate(251.7,426.0) rotate(-90)" x="-0.5" y="-10" width="56.4" height="12.3" fill="#fff"/>
<text class="lb" fill="#1f7a28" transform="translate(251.7,426.0) rotate(-90)">b4+ 413.24</text>
<rect transform="translate(273.9,429.3) rotate(-90)" x="-0.5" y="-10" width="55.7" height="12.3" fill="#fff"/>
<text class="lb" fill="#dc8650" transform="translate(273.9,429.3) rotate(-90)">y4+ 436.23</text>
<rect transform="translate(331.3,274.7) rotate(-90)" x="-0.5" y="-10" width="55.7" height="12.3" fill="#fff"/>
<text class="lb" fill="#dc8650" transform="translate(331.3,274.7) rotate(-90)">y5+ 493.27</text>
<rect transform="translate(411.1,458.1) rotate(-90)" x="-0.5" y="-10" width="67.5" height="12.3" fill="#fff"/>
<text class="lb" fill="#dc8650" transform="translate(411.1,458.1) rotate(-90)">y11++ 572.29</text>
<rect transform="translate(431.9,451.0) rotate(-90)" x="-0.5" y="-10" width="68.9" height="12.3" fill="#fff"/>
<text class="lb" fill="#1f7a28" transform="translate(431.9,451.0) rotate(-90)">b12++ 593.23</text>
<rect transform="translate(447.9,449.3) rotate(-90)" x="-0.5" y="-10" width="55.7" height="12.3" fill="#fff"/>
<text class="lb" fill="#dc8650" transform="translate(447.9,449.3) rotate(-90)">y6+ 608.28</text>
<line x1="498.5" y1="466" x2="499.9" y2="426.9" stroke="#bbb" stroke-width="1" stroke-dasharray="2,2"/>
<rect transform="translate(503.4,426.2) rotate(-90)" x="-0.5" y="-10" width="68.9" height="12.3" fill="#fff"/>
<text class="lb" fill="#1f7a28" transform="translate(503.4,426.2) rotate(-90)">b14++ 664.36</text>
<rect transform="translate(575.8,424.4) rotate(-90)" x="-0.5" y="-10" width="55.7" height="12.3" fill="#fff"/>
<text class="lb" fill="#dc8650" transform="translate(575.8,424.4) rotate(-90)">y7+ 737.33</text>
<rect transform="translate(647.1,408.3) rotate(-90)" x="-0.5" y="-10" width="55.7" height="12.3" fill="#fff"/>
<text class="lb" fill="#dc8650" transform="translate(647.1,408.3) rotate(-90)">y8+ 808.35</text>
<rect transform="translate(669.4,432.0) rotate(-90)" x="-0.5" y="-10" width="68.9" height="12.3" fill="#fff"/>
<text class="lb" fill="#1f7a28" transform="translate(669.4,432.0) rotate(-90)">b17++ 830.48</text>
<rect transform="translate(719.7,414.3) rotate(-90)" x="-0.5" y="-10" width="68.9" height="12.3" fill="#fff"/>
<text class="lb" fill="#1f7a28" transform="translate(719.7,414.3) rotate(-90)">b18++ 881.51</text>
<rect transform="translate(776.6,437.8) rotate(-90)" x="-0.5" y="-10" width="68.9" height="12.3" fill="#fff"/>
<text class="lb" fill="#1f7a28" transform="translate(776.6,437.8) rotate(-90)">b19++ 939.53</text>
<rect transform="translate(778.1,454.8) rotate(-90)" x="-0.5" y="-10" width="68.3" height="12.3" fill="#fff"/>
<text class="lb" fill="#dc8650" transform="translate(778.1,454.8) rotate(-90)">y18++ 939.53</text>
<line x1="780.5" y1="455" x2="781.4" y2="363.3" stroke="#bbb" stroke-width="1" stroke-dasharray="2,2"/>
<rect transform="translate(784.9,362.6) rotate(-90)" x="-0.5" y="-10" width="55.7" height="12.3" fill="#fff"/>
<text class="lb" fill="#dc8650" transform="translate(784.9,362.6) rotate(-90)">y9+ 945.43</text>
<rect transform="translate(883.1,437.9) rotate(-90)" x="-0.5" y="-10" width="68.0" height="12.3" fill="#fff"/>
<text class="lb" fill="#dc8650" transform="translate(883.1,437.9) rotate(-90)">y10+ 1044.50</text>
<rect transform="translate(982.1,455.5) rotate(-90)" x="-0.5" y="-10" width="66.3" height="12.3" fill="#fff"/>
<text class="lb" fill="#dc8650" transform="translate(982.1,455.5) rotate(-90)">y11+ 1143.56</text>
<rect transform="translate(998.1,451.7) rotate(-90)" x="-0.5" y="-10" width="73.6" height="12.3" fill="#fff"/>
<text class="lb" fill="#dc8650" transform="translate(998.1,451.7) rotate(-90)">y22++ 1159.20</text>
<rect transform="translate(1024.5,455.5) rotate(-90)" x="-0.5" y="-10" width="67.8" height="12.3" fill="#fff"/>
<text class="lb" fill="#1f7a28" transform="translate(1024.5,455.5) rotate(-90)">b12+ 1185.55</text>
<rect transform="translate(1047.0,414.2) rotate(-90)" x="-0.5" y="-10" width="74.4" height="12.3" fill="#fff"/>
<text class="lb" fill="#dc8650" transform="translate(1047.0,414.2) rotate(-90)">y23++ 1208.69</text>
<rect transform="translate(1081.1,436.2) rotate(-90)" x="-0.5" y="-10" width="68.0" height="12.3" fill="#fff"/>
<text class="lb" fill="#dc8650" transform="translate(1081.1,436.2) rotate(-90)">y12+ 1242.63</text>
<rect transform="translate(1150.9,381.5) rotate(-90)" x="-0.5" y="-10" width="74.4" height="12.3" fill="#fff"/>
<text class="lb" fill="#dc8650" transform="translate(1150.9,381.5) rotate(-90)">y25++ 1312.72</text>
<line x1="1182.5" y1="399.4" x2="1183.5" y2="368.5" stroke="#bbb" stroke-width="1" stroke-dasharray="2,2"/>
<rect transform="translate(1187.0,367.8) rotate(-90)" x="-0.5" y="-10" width="74.4" height="12.3" fill="#fff"/>
<text class="lb" fill="#dc8650" transform="translate(1187.0,367.8) rotate(-90)">y26++ 1348.26</text>
<rect transform="translate(1243.2,407.3) rotate(-90)" x="-0.5" y="-10" width="74.4" height="12.3" fill="#fff"/>
<text class="lb" fill="#dc8650" transform="translate(1243.2,407.3) rotate(-90)">y27++ 1404.81</text>
<rect transform="translate(1300.0,468.7) rotate(-90)" x="-0.5" y="-10" width="74.4" height="12.3" fill="#fff"/>
<text class="lb" fill="#dc8650" transform="translate(1300.0,468.7) rotate(-90)">y28++ 1461.34</text>
<rect transform="translate(1329.1,448.1) rotate(-90)" x="-0.5" y="-10" width="74.4" height="12.3" fill="#fff"/>
<text class="lb" fill="#dc8650" transform="translate(1329.1,448.1) rotate(-90)">y29++ 1490.33</text>
<rect transform="translate(1348.0,469.7) rotate(-90)" x="-0.5" y="-10" width="68.0" height="12.3" fill="#fff"/>
<text class="lb" fill="#dc8650" transform="translate(1348.0,469.7) rotate(-90)">y15+ 1509.76</text>
</svg>
</body></html>
